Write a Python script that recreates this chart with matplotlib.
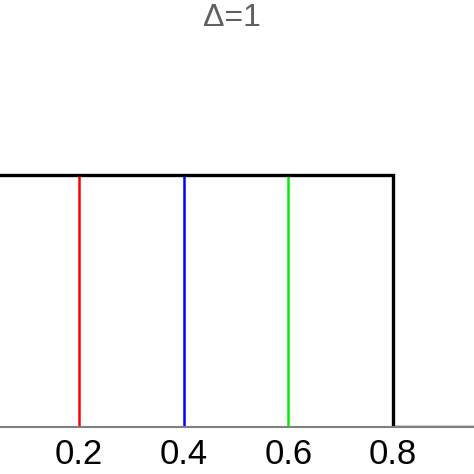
import matplotlib
matplotlib.use("Agg")
import matplotlib.pyplot as plt

# cut-off points of each step and their colours
cutoffs = [0.2, 0.4, 0.6, 0.8]
colors = ["#ff0000", "#0000ff", "#00ee00", "#000000"]
widths = [1.8, 1.8, 1.8, 2.4]
tick_vals = [0.2, 0.4, 0.6, 0.8, 1.0]
tick_labels = ["0.2", "0.4", "0.6", "0.8", "1"]
title = "\u0394=1"

plt.rcParams["font.family"] = ["Liberation Sans", "DejaVu Sans"]

fig = plt.figure(figsize=(4.74, 4.74), dpi=100)
ax = fig.add_axes([0, 0.0992, 1, 0.797])

for c, col, lw in zip(cutoffs, colors, widths):
    ax.plot([-0.1, c, c, 1.1], [1, 1, 0, 0], color=col, lw=lw,
            solid_joinstyle="miter")

for s in ["top", "left", "right"]:
    ax.spines[s].set_visible(False)
ax.spines["bottom"].set_color("#808080")
ax.spines["bottom"].set_linewidth(1.5)
ax.spines["bottom"].set_zorder(3)
ax.set_yticks([])
ax.set_xticks(tick_vals)
ax.set_xticklabels(tick_labels)
ax.tick_params(axis="x", length=0, pad=8, labelsize=25)
ax.set_xlim(0.049, 0.955)
ax.set_ylim(0, 1.5)

fig.text(0.49, 0.963, title, ha="center", va="center", fontsize=23,
         color="#606060")

fig.savefig("out.png", dpi=100)
